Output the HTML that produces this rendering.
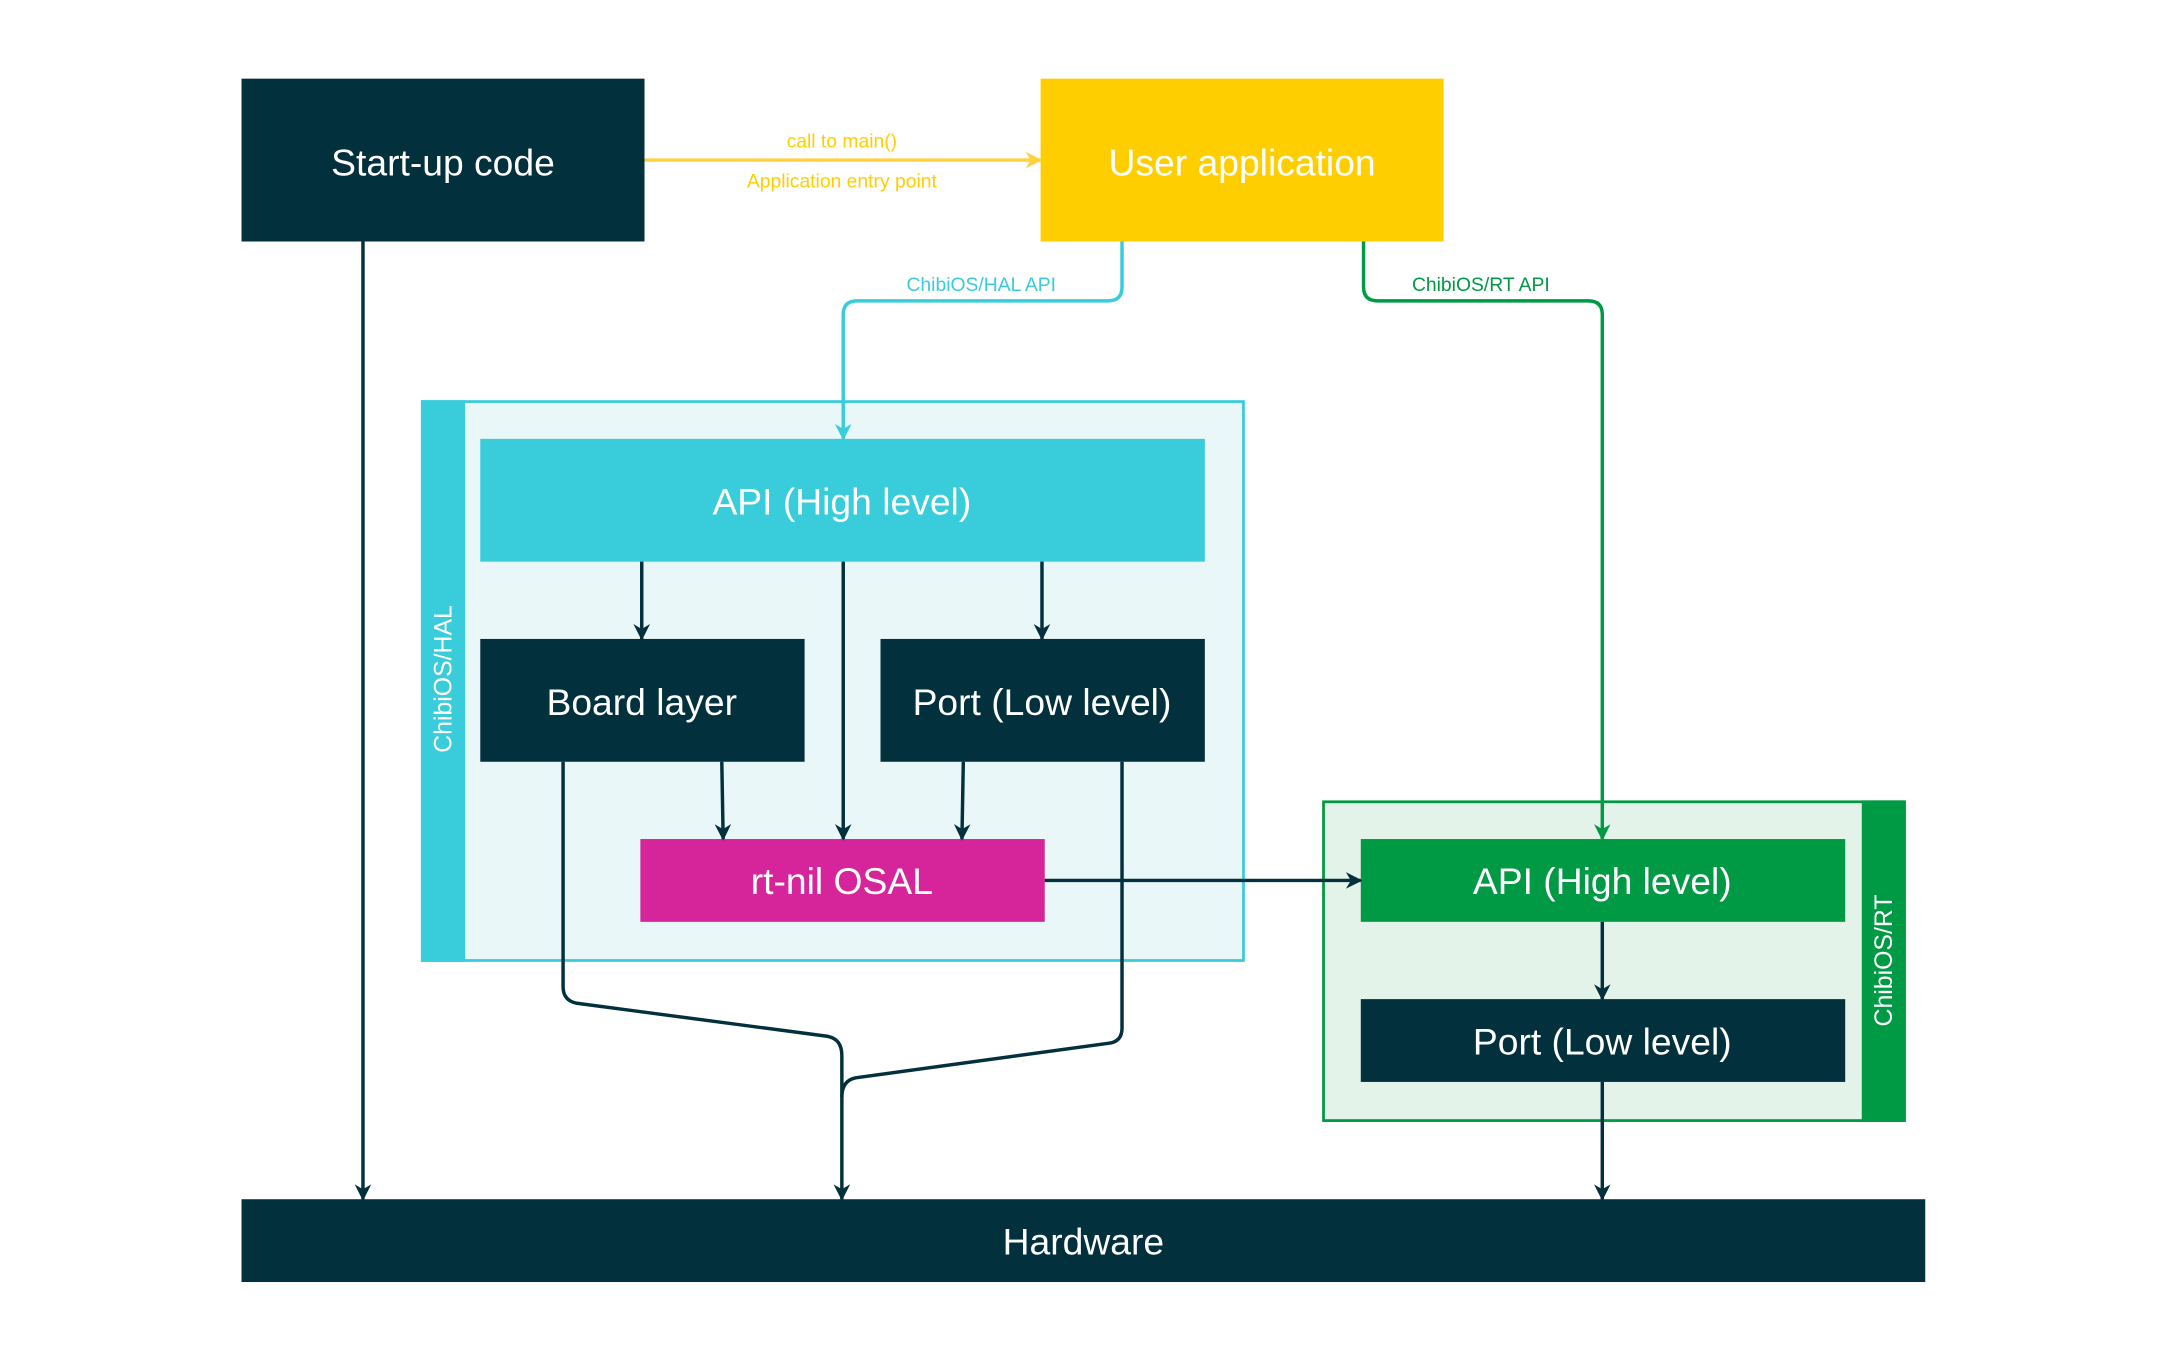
<!DOCTYPE html>
<html><head><meta charset="utf-8"><style>html,body{margin:0;padding:0;background:#fff}svg{display:block}</style></head>
<body>
<svg width="2164" height="1364" viewBox="0 0 1568 988.4" preserveAspectRatio="none" xmlns="http://www.w3.org/2000/svg" font-family="Liberation Sans, sans-serif">
<defs>
<marker id="ad" viewBox="0 0 10 10" refX="9" refY="5" markerWidth="14" markerHeight="12" markerUnits="userSpaceOnUse" orient="auto"><path d="M0,0 L10,5 L0,10 L3,5 Z" fill="#02303D"/></marker>
<marker id="ac" viewBox="0 0 10 10" refX="9" refY="5" markerWidth="14" markerHeight="12" markerUnits="userSpaceOnUse" orient="auto"><path d="M0,0 L10,5 L0,10 L3,5 Z" fill="#39CCDA"/></marker>
<marker id="ag" viewBox="0 0 10 10" refX="9" refY="5" markerWidth="14" markerHeight="12" markerUnits="userSpaceOnUse" orient="auto"><path d="M0,0 L10,5 L0,10 L3,5 Z" fill="#009A44"/></marker>
<marker id="ay" viewBox="0 0 10 10" refX="9" refY="5" markerWidth="14" markerHeight="12" markerUnits="userSpaceOnUse" orient="auto"><path d="M0,0 L10,5 L0,10 L3,5 Z" fill="#FFD040"/></marker>
</defs>
<rect x="306" y="291" width="595" height="405" fill="#E9F7F8" stroke="#39CCDA" stroke-width="2"/>
<rect x="305" y="290" width="32" height="407" fill="#39CCDA"/>
<text transform="translate(327,492) rotate(-90)" text-anchor="middle" font-size="18" fill="#fff">ChibiOS/HAL</text>
<rect x="959" y="581" width="421" height="231" fill="#E4F3EA" stroke="#009A44" stroke-width="2"/>
<rect x="1349" y="580" width="31" height="233" fill="#009A44"/>
<text transform="translate(1371,696) rotate(-90)" text-anchor="middle" font-size="18" fill="#fff">ChibiOS/RT</text>
<rect x="175" y="57" width="292" height="118" fill="#02303D"/>
<text x="321" y="127" text-anchor="middle" font-size="27" fill="#fff">Start-up code</text>
<rect x="754" y="57" width="292" height="118" fill="#FFCE00"/>
<text x="900" y="127" text-anchor="middle" font-size="27" fill="#fff">User application</text>
<rect x="348" y="318" width="525" height="89" fill="#39CCDA"/>
<text x="610" y="373" text-anchor="middle" font-size="27" fill="#fff">API (High level)</text>
<rect x="348" y="463" width="235" height="89" fill="#02303D"/>
<text x="465" y="518" text-anchor="middle" font-size="27" fill="#fff">Board layer</text>
<rect x="638" y="463" width="235" height="89" fill="#02303D"/>
<text x="755" y="518" text-anchor="middle" font-size="27" fill="#fff">Port (Low level)</text>
<rect x="464" y="608" width="293" height="60" fill="#D6249B"/>
<text x="610" y="648" text-anchor="middle" font-size="27" fill="#fff">rt-nil OSAL</text>
<rect x="986" y="608" width="351" height="60" fill="#009A44"/>
<text x="1161" y="648" text-anchor="middle" font-size="27" fill="#fff">API (High level)</text>
<rect x="986" y="724" width="351" height="60" fill="#02303D"/>
<text x="1161" y="764" text-anchor="middle" font-size="27" fill="#fff">Port (Low level)</text>
<rect x="175" y="869" width="1220" height="60" fill="#02303D"/>
<text x="785" y="909" text-anchor="middle" font-size="27" fill="#fff">Hardware</text>
<g fill="none" stroke-width="2.5">
<path d="M467,116 L754,116" stroke="#FFD040" marker-end="url(#ay)"/>
<path d="M813,175 L813,208 Q813,218 803,218 L621,218 Q611,218 611,228 L611,318" stroke="#39CCDA" marker-end="url(#ac)"/>
<path d="M988,175 L988,208 Q988,218 998,218 L1151,218 Q1161,218 1161,228 L1161,608" stroke="#009A44" marker-end="url(#ag)"/>
<g stroke="#02303D">
<path d="M263,175 L263,869" marker-end="url(#ad)"/>
<path d="M465,407 L465,463" marker-end="url(#ad)"/>
<path d="M755,407 L755,463" marker-end="url(#ad)"/>
<path d="M611,407 L611,608" marker-end="url(#ad)"/>
<path d="M523,552 L524,608" marker-end="url(#ad)"/>
<path d="M698,552 L697,608" marker-end="url(#ad)"/>
<path d="M408,552 L408,715 Q408,725 418,727 L600,751 Q610,753 610,765 L610,869" marker-end="url(#ad)"/>
<path d="M813,552 L813,745 Q813,755 803,756 L620,781 Q610,783 610,795"/>
<path d="M757,638 L986,638" marker-end="url(#ad)"/>
<path d="M1161,668 L1161,724" marker-end="url(#ad)"/>
<path d="M1161,784 L1161,869" marker-end="url(#ad)"/>
</g>
</g>
<g font-size="14" text-anchor="middle">
<text x="610" y="107" fill="#FFCE00">call to main()</text>
<text x="610" y="136" fill="#FFCE00">Application entry point</text>
<text x="711" y="211" fill="#39CCDA">ChibiOS/HAL API</text>
<text x="1073" y="211" fill="#009A44">ChibiOS/RT API</text>
</g>
</svg>
</body></html>
